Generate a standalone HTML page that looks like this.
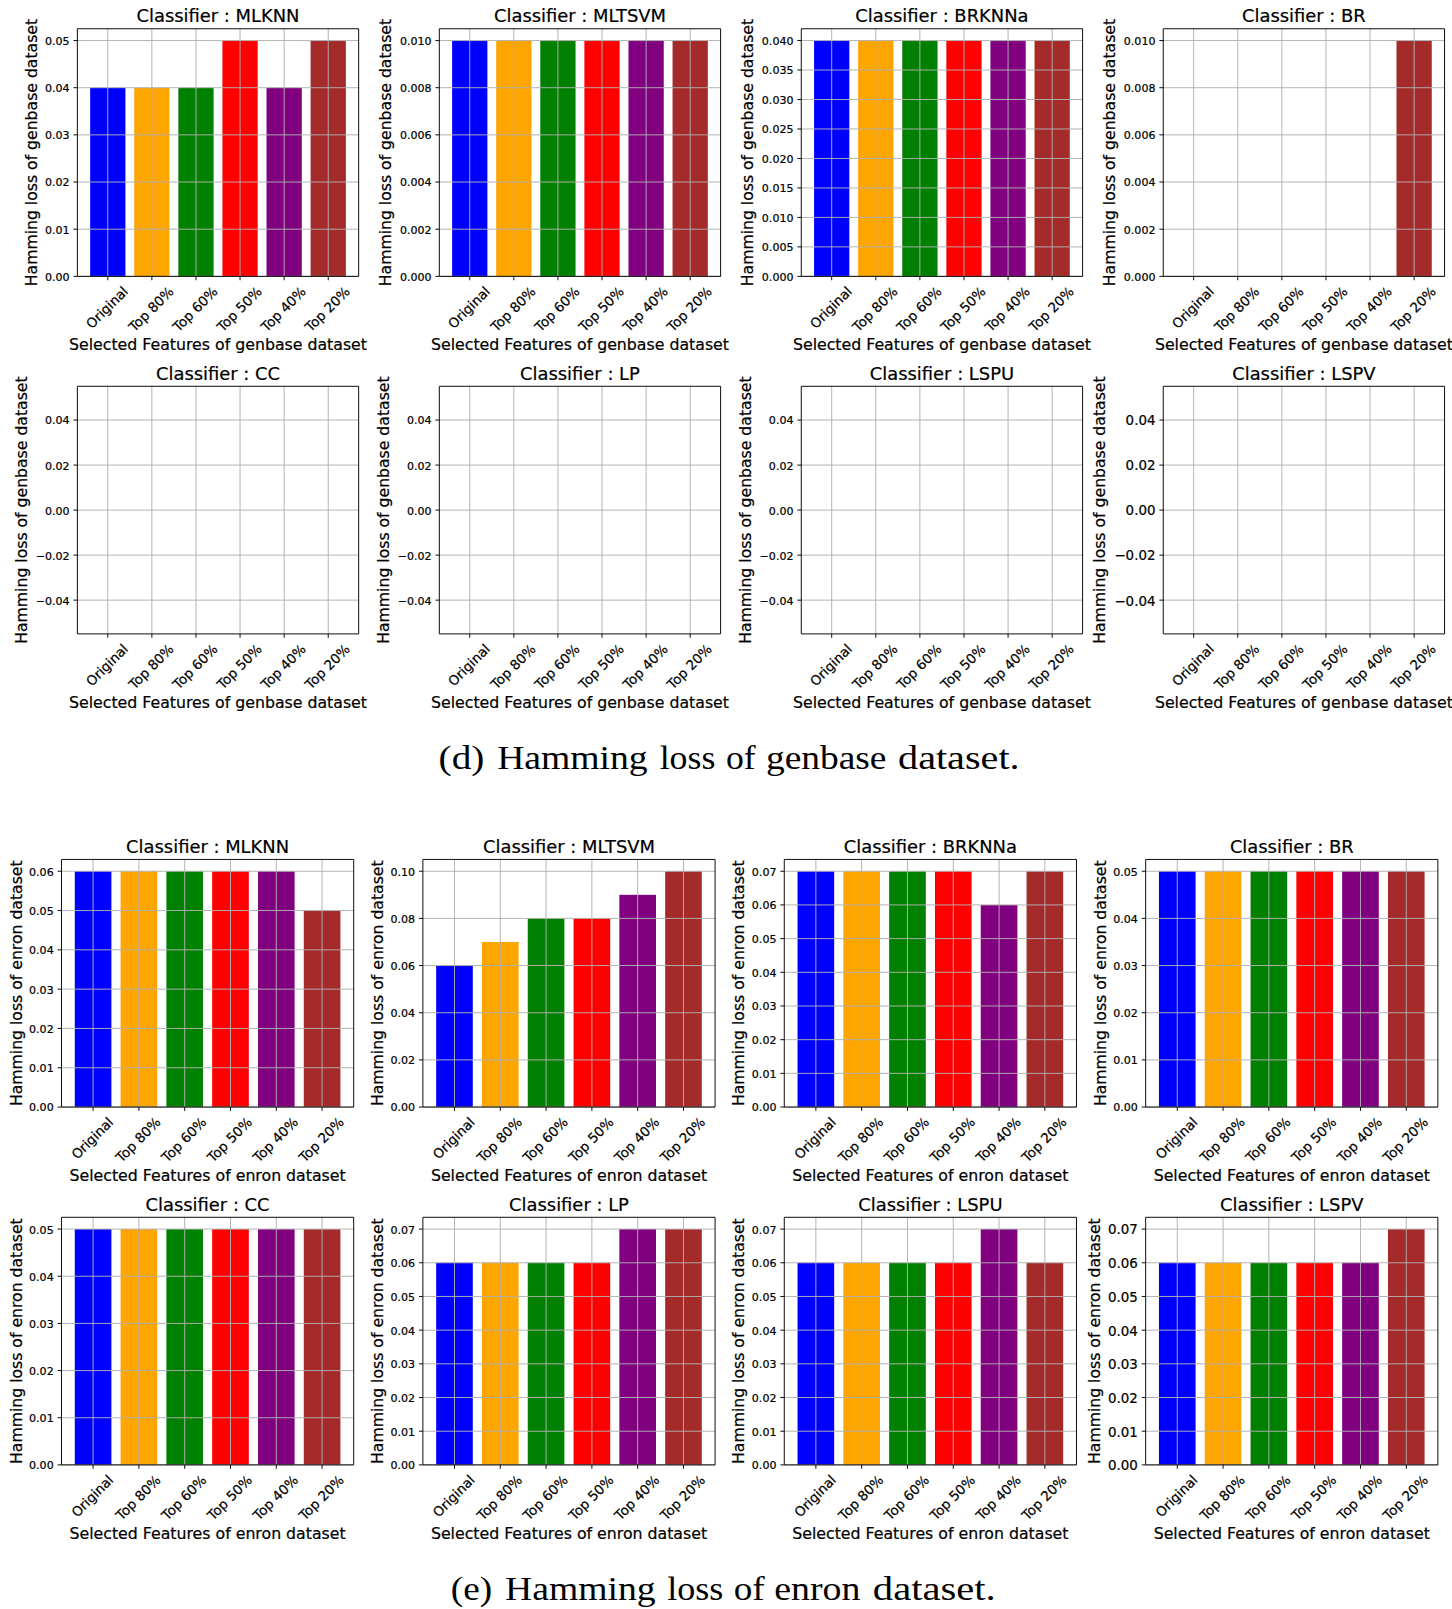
<!DOCTYPE html>
<html><head><meta charset="utf-8"><title>Hamming loss</title>
<style>html,body{margin:0;padding:0;background:#fff}svg{display:block}</style></head>
<body><svg width="1452" height="1609" viewBox="0 0 1452 1609" font-family="'DejaVu Sans','Liberation Sans',sans-serif" fill="#000" stroke="#000" stroke-width="0.22" stroke-linejoin="round">
<rect width="1452" height="1609" fill="#fff" stroke="none"/>
<rect x="77.36" y="28.76" width="281.30" height="247.60" fill="#fff" stroke="none"/>
<rect x="90.15" y="87.71" width="35.27" height="188.65" fill="#0000ff" stroke="none"/>
<rect x="134.24" y="87.71" width="35.27" height="188.65" fill="#ffa500" stroke="none"/>
<rect x="178.33" y="87.71" width="35.27" height="188.65" fill="#008000" stroke="none"/>
<rect x="222.42" y="40.55" width="35.27" height="235.81" fill="#ff0000" stroke="none"/>
<rect x="266.51" y="87.71" width="35.27" height="188.65" fill="#800080" stroke="none"/>
<rect x="310.60" y="40.55" width="35.27" height="235.81" fill="#a52a2a" stroke="none"/>
<path d="M107.78 28.76V276.36M151.87 28.76V276.36M195.96 28.76V276.36M240.06 28.76V276.36M284.15 28.76V276.36M328.24 28.76V276.36M77.36 276.36H358.66M77.36 229.20H358.66M77.36 182.04H358.66M77.36 134.87H358.66M77.36 87.71H358.66M77.36 40.55H358.66" stroke="#b0b0b0" stroke-width="0.95" fill="none"/>
<path d="M107.78 276.36v3.90M151.87 276.36v3.90M195.96 276.36v3.90M240.06 276.36v3.90M284.15 276.36v3.90M328.24 276.36v3.90M77.36 276.36h-3.90M77.36 229.20h-3.90M77.36 182.04h-3.90M77.36 134.87h-3.90M77.36 87.71h-3.90M77.36 40.55h-3.90" stroke="#000" stroke-width="0.95" fill="none"/>
<rect x="77.36" y="28.76" width="281.30" height="247.60" fill="none" stroke="#000" stroke-width="0.95"/>
<text x="69.55" y="280.78" font-size="11.05" text-anchor="end">0.00</text>
<text x="69.55" y="233.62" font-size="11.05" text-anchor="end">0.01</text>
<text x="69.55" y="186.46" font-size="11.05" text-anchor="end">0.02</text>
<text x="69.55" y="139.29" font-size="11.05" text-anchor="end">0.03</text>
<text x="69.55" y="92.13" font-size="11.05" text-anchor="end">0.04</text>
<text x="69.55" y="44.97" font-size="11.05" text-anchor="end">0.05</text>
<text x="107.78" y="311.98" font-size="13.40" text-anchor="middle" transform="rotate(-45 107.78 308.30)">Original</text>
<text x="151.87" y="313.48" font-size="13.40" text-anchor="middle" transform="rotate(-45 151.87 309.79)">Top 80%</text>
<text x="195.96" y="313.48" font-size="13.40" text-anchor="middle" transform="rotate(-45 195.96 309.79)">Top 60%</text>
<text x="240.06" y="313.48" font-size="13.40" text-anchor="middle" transform="rotate(-45 240.06 309.79)">Top 50%</text>
<text x="284.15" y="313.48" font-size="13.40" text-anchor="middle" transform="rotate(-45 284.15 309.79)">Top 40%</text>
<text x="328.24" y="313.48" font-size="13.40" text-anchor="middle" transform="rotate(-45 328.24 309.79)">Top 20%</text>
<text x="218.01" y="22.07" font-size="17.90" text-anchor="middle">Classifier : MLKNN</text>
<text x="218.01" y="350.35" font-size="15.75" text-anchor="middle">Selected Features of genbase dataset</text>
<text x="36.58" y="152.56" font-size="15.66" text-anchor="middle" transform="rotate(-90 36.58 152.56)">Hamming loss of genbase dataset</text>
<rect x="439.32" y="28.76" width="281.30" height="247.60" fill="#fff" stroke="none"/>
<rect x="452.11" y="40.55" width="35.27" height="235.81" fill="#0000ff" stroke="none"/>
<rect x="496.20" y="40.55" width="35.27" height="235.81" fill="#ffa500" stroke="none"/>
<rect x="540.29" y="40.55" width="35.27" height="235.81" fill="#008000" stroke="none"/>
<rect x="584.38" y="40.55" width="35.27" height="235.81" fill="#ff0000" stroke="none"/>
<rect x="628.47" y="40.55" width="35.27" height="235.81" fill="#800080" stroke="none"/>
<rect x="672.56" y="40.55" width="35.27" height="235.81" fill="#a52a2a" stroke="none"/>
<path d="M469.74 28.76V276.36M513.83 28.76V276.36M557.92 28.76V276.36M602.02 28.76V276.36M646.11 28.76V276.36M690.20 28.76V276.36M439.32 276.36H720.62M439.32 229.20H720.62M439.32 182.04H720.62M439.32 134.87H720.62M439.32 87.71H720.62M439.32 40.55H720.62" stroke="#b0b0b0" stroke-width="0.95" fill="none"/>
<path d="M469.74 276.36v3.90M513.83 276.36v3.90M557.92 276.36v3.90M602.02 276.36v3.90M646.11 276.36v3.90M690.20 276.36v3.90M439.32 276.36h-3.90M439.32 229.20h-3.90M439.32 182.04h-3.90M439.32 134.87h-3.90M439.32 87.71h-3.90M439.32 40.55h-3.90" stroke="#000" stroke-width="0.95" fill="none"/>
<rect x="439.32" y="28.76" width="281.30" height="247.60" fill="none" stroke="#000" stroke-width="0.95"/>
<text x="431.52" y="280.78" font-size="11.05" text-anchor="end">0.000</text>
<text x="431.52" y="233.62" font-size="11.05" text-anchor="end">0.002</text>
<text x="431.52" y="186.46" font-size="11.05" text-anchor="end">0.004</text>
<text x="431.52" y="139.29" font-size="11.05" text-anchor="end">0.006</text>
<text x="431.52" y="92.13" font-size="11.05" text-anchor="end">0.008</text>
<text x="431.52" y="44.97" font-size="11.05" text-anchor="end">0.010</text>
<text x="469.74" y="311.98" font-size="13.40" text-anchor="middle" transform="rotate(-45 469.74 308.30)">Original</text>
<text x="513.83" y="313.48" font-size="13.40" text-anchor="middle" transform="rotate(-45 513.83 309.79)">Top 80%</text>
<text x="557.92" y="313.48" font-size="13.40" text-anchor="middle" transform="rotate(-45 557.92 309.79)">Top 60%</text>
<text x="602.02" y="313.48" font-size="13.40" text-anchor="middle" transform="rotate(-45 602.02 309.79)">Top 50%</text>
<text x="646.11" y="313.48" font-size="13.40" text-anchor="middle" transform="rotate(-45 646.11 309.79)">Top 40%</text>
<text x="690.20" y="313.48" font-size="13.40" text-anchor="middle" transform="rotate(-45 690.20 309.79)">Top 20%</text>
<text x="579.97" y="22.07" font-size="17.90" text-anchor="middle">Classifier : MLTSVM</text>
<text x="579.97" y="350.35" font-size="15.75" text-anchor="middle">Selected Features of genbase dataset</text>
<text x="391.51" y="152.56" font-size="15.66" text-anchor="middle" transform="rotate(-90 391.51 152.56)">Hamming loss of genbase dataset</text>
<rect x="801.28" y="28.76" width="281.30" height="247.60" fill="#fff" stroke="none"/>
<rect x="814.07" y="40.55" width="35.27" height="235.81" fill="#0000ff" stroke="none"/>
<rect x="858.16" y="40.55" width="35.27" height="235.81" fill="#ffa500" stroke="none"/>
<rect x="902.25" y="40.55" width="35.27" height="235.81" fill="#008000" stroke="none"/>
<rect x="946.34" y="40.55" width="35.27" height="235.81" fill="#ff0000" stroke="none"/>
<rect x="990.43" y="40.55" width="35.27" height="235.81" fill="#800080" stroke="none"/>
<rect x="1034.52" y="40.55" width="35.27" height="235.81" fill="#a52a2a" stroke="none"/>
<path d="M831.70 28.76V276.36M875.79 28.76V276.36M919.88 28.76V276.36M963.98 28.76V276.36M1008.07 28.76V276.36M1052.16 28.76V276.36M801.28 276.36H1082.58M801.28 246.88H1082.58M801.28 217.41H1082.58M801.28 187.93H1082.58M801.28 158.46H1082.58M801.28 128.98H1082.58M801.28 99.50H1082.58M801.28 70.03H1082.58M801.28 40.55H1082.58" stroke="#b0b0b0" stroke-width="0.95" fill="none"/>
<path d="M831.70 276.36v3.90M875.79 276.36v3.90M919.88 276.36v3.90M963.98 276.36v3.90M1008.07 276.36v3.90M1052.16 276.36v3.90M801.28 276.36h-3.90M801.28 246.88h-3.90M801.28 217.41h-3.90M801.28 187.93h-3.90M801.28 158.46h-3.90M801.28 128.98h-3.90M801.28 99.50h-3.90M801.28 70.03h-3.90M801.28 40.55h-3.90" stroke="#000" stroke-width="0.95" fill="none"/>
<rect x="801.28" y="28.76" width="281.30" height="247.60" fill="none" stroke="#000" stroke-width="0.95"/>
<text x="793.47" y="280.78" font-size="11.05" text-anchor="end">0.000</text>
<text x="793.47" y="251.30" font-size="11.05" text-anchor="end">0.005</text>
<text x="793.47" y="221.83" font-size="11.05" text-anchor="end">0.010</text>
<text x="793.47" y="192.35" font-size="11.05" text-anchor="end">0.015</text>
<text x="793.47" y="162.88" font-size="11.05" text-anchor="end">0.020</text>
<text x="793.47" y="133.40" font-size="11.05" text-anchor="end">0.025</text>
<text x="793.47" y="103.92" font-size="11.05" text-anchor="end">0.030</text>
<text x="793.47" y="74.45" font-size="11.05" text-anchor="end">0.035</text>
<text x="793.47" y="44.97" font-size="11.05" text-anchor="end">0.040</text>
<text x="831.70" y="311.98" font-size="13.40" text-anchor="middle" transform="rotate(-45 831.70 308.30)">Original</text>
<text x="875.79" y="313.48" font-size="13.40" text-anchor="middle" transform="rotate(-45 875.79 309.79)">Top 80%</text>
<text x="919.88" y="313.48" font-size="13.40" text-anchor="middle" transform="rotate(-45 919.88 309.79)">Top 60%</text>
<text x="963.98" y="313.48" font-size="13.40" text-anchor="middle" transform="rotate(-45 963.98 309.79)">Top 50%</text>
<text x="1008.07" y="313.48" font-size="13.40" text-anchor="middle" transform="rotate(-45 1008.07 309.79)">Top 40%</text>
<text x="1052.16" y="313.48" font-size="13.40" text-anchor="middle" transform="rotate(-45 1052.16 309.79)">Top 20%</text>
<text x="941.93" y="22.07" font-size="17.90" text-anchor="middle">Classifier : BRKNNa</text>
<text x="941.93" y="350.35" font-size="15.75" text-anchor="middle">Selected Features of genbase dataset</text>
<text x="753.47" y="152.56" font-size="15.66" text-anchor="middle" transform="rotate(-90 753.47 152.56)">Hamming loss of genbase dataset</text>
<rect x="1163.25" y="28.76" width="281.30" height="247.60" fill="#fff" stroke="none"/>
<rect x="1396.49" y="40.55" width="35.27" height="235.81" fill="#a52a2a" stroke="none"/>
<path d="M1193.67 28.76V276.36M1237.76 28.76V276.36M1281.85 28.76V276.36M1325.95 28.76V276.36M1370.04 28.76V276.36M1414.13 28.76V276.36M1163.25 276.36H1444.55M1163.25 229.20H1444.55M1163.25 182.04H1444.55M1163.25 134.87H1444.55M1163.25 87.71H1444.55M1163.25 40.55H1444.55" stroke="#b0b0b0" stroke-width="0.95" fill="none"/>
<path d="M1193.67 276.36v3.90M1237.76 276.36v3.90M1281.85 276.36v3.90M1325.95 276.36v3.90M1370.04 276.36v3.90M1414.13 276.36v3.90M1163.25 276.36h-3.90M1163.25 229.20h-3.90M1163.25 182.04h-3.90M1163.25 134.87h-3.90M1163.25 87.71h-3.90M1163.25 40.55h-3.90" stroke="#000" stroke-width="0.95" fill="none"/>
<rect x="1163.25" y="28.76" width="281.30" height="247.60" fill="none" stroke="#000" stroke-width="0.95"/>
<text x="1155.45" y="280.78" font-size="11.05" text-anchor="end">0.000</text>
<text x="1155.45" y="233.62" font-size="11.05" text-anchor="end">0.002</text>
<text x="1155.45" y="186.46" font-size="11.05" text-anchor="end">0.004</text>
<text x="1155.45" y="139.29" font-size="11.05" text-anchor="end">0.006</text>
<text x="1155.45" y="92.13" font-size="11.05" text-anchor="end">0.008</text>
<text x="1155.45" y="44.97" font-size="11.05" text-anchor="end">0.010</text>
<text x="1193.67" y="311.98" font-size="13.40" text-anchor="middle" transform="rotate(-45 1193.67 308.30)">Original</text>
<text x="1237.76" y="313.48" font-size="13.40" text-anchor="middle" transform="rotate(-45 1237.76 309.79)">Top 80%</text>
<text x="1281.85" y="313.48" font-size="13.40" text-anchor="middle" transform="rotate(-45 1281.85 309.79)">Top 60%</text>
<text x="1325.95" y="313.48" font-size="13.40" text-anchor="middle" transform="rotate(-45 1325.95 309.79)">Top 50%</text>
<text x="1370.04" y="313.48" font-size="13.40" text-anchor="middle" transform="rotate(-45 1370.04 309.79)">Top 40%</text>
<text x="1414.13" y="313.48" font-size="13.40" text-anchor="middle" transform="rotate(-45 1414.13 309.79)">Top 20%</text>
<text x="1303.90" y="22.07" font-size="17.90" text-anchor="middle">Classifier : BR</text>
<text x="1303.90" y="350.35" font-size="15.75" text-anchor="middle">Selected Features of genbase dataset</text>
<text x="1115.44" y="152.56" font-size="15.66" text-anchor="middle" transform="rotate(-90 1115.44 152.56)">Hamming loss of genbase dataset</text>
<rect x="77.36" y="386.30" width="281.30" height="247.60" fill="#fff" stroke="none"/>
<path d="M107.78 386.30V633.90M151.87 386.30V633.90M195.96 386.30V633.90M240.06 386.30V633.90M284.15 386.30V633.90M328.24 386.30V633.90M77.36 600.14H358.66M77.36 555.12H358.66M77.36 510.10H358.66M77.36 465.08H358.66M77.36 420.06H358.66" stroke="#b0b0b0" stroke-width="0.95" fill="none"/>
<path d="M107.78 633.90v3.90M151.87 633.90v3.90M195.96 633.90v3.90M240.06 633.90v3.90M284.15 633.90v3.90M328.24 633.90v3.90M77.36 600.14h-3.90M77.36 555.12h-3.90M77.36 510.10h-3.90M77.36 465.08h-3.90M77.36 420.06h-3.90" stroke="#000" stroke-width="0.95" fill="none"/>
<rect x="77.36" y="386.30" width="281.30" height="247.60" fill="none" stroke="#000" stroke-width="0.95"/>
<text x="69.55" y="604.56" font-size="11.05" text-anchor="end">−0.04</text>
<text x="69.55" y="559.54" font-size="11.05" text-anchor="end">−0.02</text>
<text x="69.55" y="514.52" font-size="11.05" text-anchor="end">0.00</text>
<text x="69.55" y="469.50" font-size="11.05" text-anchor="end">0.02</text>
<text x="69.55" y="424.48" font-size="11.05" text-anchor="end">0.04</text>
<text x="107.78" y="669.52" font-size="13.40" text-anchor="middle" transform="rotate(-45 107.78 665.84)">Original</text>
<text x="151.87" y="671.02" font-size="13.40" text-anchor="middle" transform="rotate(-45 151.87 667.33)">Top 80%</text>
<text x="195.96" y="671.02" font-size="13.40" text-anchor="middle" transform="rotate(-45 195.96 667.33)">Top 60%</text>
<text x="240.06" y="671.02" font-size="13.40" text-anchor="middle" transform="rotate(-45 240.06 667.33)">Top 50%</text>
<text x="284.15" y="671.02" font-size="13.40" text-anchor="middle" transform="rotate(-45 284.15 667.33)">Top 40%</text>
<text x="328.24" y="671.02" font-size="13.40" text-anchor="middle" transform="rotate(-45 328.24 667.33)">Top 20%</text>
<text x="218.01" y="379.61" font-size="17.90" text-anchor="middle">Classifier : CC</text>
<text x="218.01" y="707.89" font-size="15.75" text-anchor="middle">Selected Features of genbase dataset</text>
<text x="27.33" y="510.10" font-size="15.66" text-anchor="middle" transform="rotate(-90 27.33 510.10)">Hamming loss of genbase dataset</text>
<rect x="439.32" y="386.30" width="281.30" height="247.60" fill="#fff" stroke="none"/>
<path d="M469.74 386.30V633.90M513.83 386.30V633.90M557.92 386.30V633.90M602.02 386.30V633.90M646.11 386.30V633.90M690.20 386.30V633.90M439.32 600.14H720.62M439.32 555.12H720.62M439.32 510.10H720.62M439.32 465.08H720.62M439.32 420.06H720.62" stroke="#b0b0b0" stroke-width="0.95" fill="none"/>
<path d="M469.74 633.90v3.90M513.83 633.90v3.90M557.92 633.90v3.90M602.02 633.90v3.90M646.11 633.90v3.90M690.20 633.90v3.90M439.32 600.14h-3.90M439.32 555.12h-3.90M439.32 510.10h-3.90M439.32 465.08h-3.90M439.32 420.06h-3.90" stroke="#000" stroke-width="0.95" fill="none"/>
<rect x="439.32" y="386.30" width="281.30" height="247.60" fill="none" stroke="#000" stroke-width="0.95"/>
<text x="431.52" y="604.56" font-size="11.05" text-anchor="end">−0.04</text>
<text x="431.52" y="559.54" font-size="11.05" text-anchor="end">−0.02</text>
<text x="431.52" y="514.52" font-size="11.05" text-anchor="end">0.00</text>
<text x="431.52" y="469.50" font-size="11.05" text-anchor="end">0.02</text>
<text x="431.52" y="424.48" font-size="11.05" text-anchor="end">0.04</text>
<text x="469.74" y="669.52" font-size="13.40" text-anchor="middle" transform="rotate(-45 469.74 665.84)">Original</text>
<text x="513.83" y="671.02" font-size="13.40" text-anchor="middle" transform="rotate(-45 513.83 667.33)">Top 80%</text>
<text x="557.92" y="671.02" font-size="13.40" text-anchor="middle" transform="rotate(-45 557.92 667.33)">Top 60%</text>
<text x="602.02" y="671.02" font-size="13.40" text-anchor="middle" transform="rotate(-45 602.02 667.33)">Top 50%</text>
<text x="646.11" y="671.02" font-size="13.40" text-anchor="middle" transform="rotate(-45 646.11 667.33)">Top 40%</text>
<text x="690.20" y="671.02" font-size="13.40" text-anchor="middle" transform="rotate(-45 690.20 667.33)">Top 20%</text>
<text x="579.97" y="379.61" font-size="17.90" text-anchor="middle">Classifier : LP</text>
<text x="579.97" y="707.89" font-size="15.75" text-anchor="middle">Selected Features of genbase dataset</text>
<text x="389.29" y="510.10" font-size="15.66" text-anchor="middle" transform="rotate(-90 389.29 510.10)">Hamming loss of genbase dataset</text>
<rect x="801.28" y="386.30" width="281.30" height="247.60" fill="#fff" stroke="none"/>
<path d="M831.70 386.30V633.90M875.79 386.30V633.90M919.88 386.30V633.90M963.98 386.30V633.90M1008.07 386.30V633.90M1052.16 386.30V633.90M801.28 600.14H1082.58M801.28 555.12H1082.58M801.28 510.10H1082.58M801.28 465.08H1082.58M801.28 420.06H1082.58" stroke="#b0b0b0" stroke-width="0.95" fill="none"/>
<path d="M831.70 633.90v3.90M875.79 633.90v3.90M919.88 633.90v3.90M963.98 633.90v3.90M1008.07 633.90v3.90M1052.16 633.90v3.90M801.28 600.14h-3.90M801.28 555.12h-3.90M801.28 510.10h-3.90M801.28 465.08h-3.90M801.28 420.06h-3.90" stroke="#000" stroke-width="0.95" fill="none"/>
<rect x="801.28" y="386.30" width="281.30" height="247.60" fill="none" stroke="#000" stroke-width="0.95"/>
<text x="793.47" y="604.56" font-size="11.05" text-anchor="end">−0.04</text>
<text x="793.47" y="559.54" font-size="11.05" text-anchor="end">−0.02</text>
<text x="793.47" y="514.52" font-size="11.05" text-anchor="end">0.00</text>
<text x="793.47" y="469.50" font-size="11.05" text-anchor="end">0.02</text>
<text x="793.47" y="424.48" font-size="11.05" text-anchor="end">0.04</text>
<text x="831.70" y="669.52" font-size="13.40" text-anchor="middle" transform="rotate(-45 831.70 665.84)">Original</text>
<text x="875.79" y="671.02" font-size="13.40" text-anchor="middle" transform="rotate(-45 875.79 667.33)">Top 80%</text>
<text x="919.88" y="671.02" font-size="13.40" text-anchor="middle" transform="rotate(-45 919.88 667.33)">Top 60%</text>
<text x="963.98" y="671.02" font-size="13.40" text-anchor="middle" transform="rotate(-45 963.98 667.33)">Top 50%</text>
<text x="1008.07" y="671.02" font-size="13.40" text-anchor="middle" transform="rotate(-45 1008.07 667.33)">Top 40%</text>
<text x="1052.16" y="671.02" font-size="13.40" text-anchor="middle" transform="rotate(-45 1052.16 667.33)">Top 20%</text>
<text x="941.93" y="379.61" font-size="17.90" text-anchor="middle">Classifier : LSPU</text>
<text x="941.93" y="707.89" font-size="15.75" text-anchor="middle">Selected Features of genbase dataset</text>
<text x="751.25" y="510.10" font-size="15.66" text-anchor="middle" transform="rotate(-90 751.25 510.10)">Hamming loss of genbase dataset</text>
<rect x="1163.25" y="386.30" width="281.30" height="247.60" fill="#fff" stroke="none"/>
<path d="M1193.67 386.30V633.90M1237.76 386.30V633.90M1281.85 386.30V633.90M1325.95 386.30V633.90M1370.04 386.30V633.90M1414.13 386.30V633.90M1163.25 600.14H1444.55M1163.25 555.12H1444.55M1163.25 510.10H1444.55M1163.25 465.08H1444.55M1163.25 420.06H1444.55" stroke="#b0b0b0" stroke-width="0.95" fill="none"/>
<path d="M1193.67 633.90v3.90M1237.76 633.90v3.90M1281.85 633.90v3.90M1325.95 633.90v3.90M1370.04 633.90v3.90M1414.13 633.90v3.90M1163.25 600.14h-3.90M1163.25 555.12h-3.90M1163.25 510.10h-3.90M1163.25 465.08h-3.90M1163.25 420.06h-3.90" stroke="#000" stroke-width="0.95" fill="none"/>
<rect x="1163.25" y="386.30" width="281.30" height="247.60" fill="none" stroke="#000" stroke-width="0.95"/>
<text x="1155.45" y="605.50" font-size="13.40" text-anchor="end">−0.04</text>
<text x="1155.45" y="560.48" font-size="13.40" text-anchor="end">−0.02</text>
<text x="1155.45" y="515.46" font-size="13.40" text-anchor="end">0.00</text>
<text x="1155.45" y="470.44" font-size="13.40" text-anchor="end">0.02</text>
<text x="1155.45" y="425.42" font-size="13.40" text-anchor="end">0.04</text>
<text x="1193.67" y="669.52" font-size="13.40" text-anchor="middle" transform="rotate(-45 1193.67 665.84)">Original</text>
<text x="1237.76" y="671.02" font-size="13.40" text-anchor="middle" transform="rotate(-45 1237.76 667.33)">Top 80%</text>
<text x="1281.85" y="671.02" font-size="13.40" text-anchor="middle" transform="rotate(-45 1281.85 667.33)">Top 60%</text>
<text x="1325.95" y="671.02" font-size="13.40" text-anchor="middle" transform="rotate(-45 1325.95 667.33)">Top 50%</text>
<text x="1370.04" y="671.02" font-size="13.40" text-anchor="middle" transform="rotate(-45 1370.04 667.33)">Top 40%</text>
<text x="1414.13" y="671.02" font-size="13.40" text-anchor="middle" transform="rotate(-45 1414.13 667.33)">Top 20%</text>
<text x="1303.90" y="379.61" font-size="17.90" text-anchor="middle">Classifier : LSPV</text>
<text x="1303.90" y="707.89" font-size="15.75" text-anchor="middle">Selected Features of genbase dataset</text>
<text x="1105.31" y="510.10" font-size="15.66" text-anchor="middle" transform="rotate(-90 1105.31 510.10)">Hamming loss of genbase dataset</text>
<rect x="61.49" y="859.45" width="292.20" height="247.60" fill="#fff" stroke="none"/>
<rect x="74.77" y="871.24" width="36.64" height="235.81" fill="#0000ff" stroke="none"/>
<rect x="120.57" y="871.24" width="36.64" height="235.81" fill="#ffa500" stroke="none"/>
<rect x="166.37" y="871.24" width="36.64" height="235.81" fill="#008000" stroke="none"/>
<rect x="212.17" y="871.24" width="36.64" height="235.81" fill="#ff0000" stroke="none"/>
<rect x="257.97" y="871.24" width="36.64" height="235.81" fill="#800080" stroke="none"/>
<rect x="303.77" y="910.54" width="36.64" height="196.51" fill="#a52a2a" stroke="none"/>
<path d="M93.09 859.45V1107.05M138.89 859.45V1107.05M184.69 859.45V1107.05M230.49 859.45V1107.05M276.29 859.45V1107.05M322.09 859.45V1107.05M61.49 1107.05H353.69M61.49 1067.75H353.69M61.49 1028.45H353.69M61.49 989.15H353.69M61.49 949.84H353.69M61.49 910.54H353.69M61.49 871.24H353.69" stroke="#b0b0b0" stroke-width="0.95" fill="none"/>
<path d="M93.09 1107.05v3.90M138.89 1107.05v3.90M184.69 1107.05v3.90M230.49 1107.05v3.90M276.29 1107.05v3.90M322.09 1107.05v3.90M61.49 1107.05h-3.90M61.49 1067.75h-3.90M61.49 1028.45h-3.90M61.49 989.15h-3.90M61.49 949.84h-3.90M61.49 910.54h-3.90M61.49 871.24h-3.90" stroke="#000" stroke-width="0.95" fill="none"/>
<rect x="61.49" y="859.45" width="292.20" height="247.60" fill="none" stroke="#000" stroke-width="0.95"/>
<text x="53.69" y="1111.47" font-size="11.05" text-anchor="end">0.00</text>
<text x="53.69" y="1072.17" font-size="11.05" text-anchor="end">0.01</text>
<text x="53.69" y="1032.87" font-size="11.05" text-anchor="end">0.02</text>
<text x="53.69" y="993.57" font-size="11.05" text-anchor="end">0.03</text>
<text x="53.69" y="954.26" font-size="11.05" text-anchor="end">0.04</text>
<text x="53.69" y="914.96" font-size="11.05" text-anchor="end">0.05</text>
<text x="53.69" y="875.66" font-size="11.05" text-anchor="end">0.06</text>
<text x="93.09" y="1142.67" font-size="13.40" text-anchor="middle" transform="rotate(-45 93.09 1138.99)">Original</text>
<text x="138.89" y="1144.17" font-size="13.40" text-anchor="middle" transform="rotate(-45 138.89 1140.48)">Top 80%</text>
<text x="184.69" y="1144.17" font-size="13.40" text-anchor="middle" transform="rotate(-45 184.69 1140.48)">Top 60%</text>
<text x="230.49" y="1144.17" font-size="13.40" text-anchor="middle" transform="rotate(-45 230.49 1140.48)">Top 50%</text>
<text x="276.29" y="1144.17" font-size="13.40" text-anchor="middle" transform="rotate(-45 276.29 1140.48)">Top 40%</text>
<text x="322.09" y="1144.17" font-size="13.40" text-anchor="middle" transform="rotate(-45 322.09 1140.48)">Top 20%</text>
<text x="207.59" y="852.76" font-size="17.90" text-anchor="middle">Classifier : MLKNN</text>
<text x="207.59" y="1181.04" font-size="15.75" text-anchor="middle">Selected Features of enron dataset</text>
<text x="21.51" y="983.25" font-size="15.66" text-anchor="middle" transform="rotate(-90 21.51 983.25)">Hamming loss of enron dataset</text>
<rect x="422.88" y="859.45" width="292.20" height="247.60" fill="#fff" stroke="none"/>
<rect x="436.16" y="965.56" width="36.64" height="141.49" fill="#0000ff" stroke="none"/>
<rect x="481.96" y="941.98" width="36.64" height="165.07" fill="#ffa500" stroke="none"/>
<rect x="527.76" y="918.40" width="36.64" height="188.65" fill="#008000" stroke="none"/>
<rect x="573.56" y="918.40" width="36.64" height="188.65" fill="#ff0000" stroke="none"/>
<rect x="619.36" y="894.82" width="36.64" height="212.23" fill="#800080" stroke="none"/>
<rect x="665.16" y="871.24" width="36.64" height="235.81" fill="#a52a2a" stroke="none"/>
<path d="M454.48 859.45V1107.05M500.28 859.45V1107.05M546.08 859.45V1107.05M591.88 859.45V1107.05M637.68 859.45V1107.05M683.48 859.45V1107.05M422.88 1107.05H715.08M422.88 1059.89H715.08M422.88 1012.73H715.08M422.88 965.56H715.08M422.88 918.40H715.08M422.88 871.24H715.08" stroke="#b0b0b0" stroke-width="0.95" fill="none"/>
<path d="M454.48 1107.05v3.90M500.28 1107.05v3.90M546.08 1107.05v3.90M591.88 1107.05v3.90M637.68 1107.05v3.90M683.48 1107.05v3.90M422.88 1107.05h-3.90M422.88 1059.89h-3.90M422.88 1012.73h-3.90M422.88 965.56h-3.90M422.88 918.40h-3.90M422.88 871.24h-3.90" stroke="#000" stroke-width="0.95" fill="none"/>
<rect x="422.88" y="859.45" width="292.20" height="247.60" fill="none" stroke="#000" stroke-width="0.95"/>
<text x="415.08" y="1111.47" font-size="11.05" text-anchor="end">0.00</text>
<text x="415.08" y="1064.31" font-size="11.05" text-anchor="end">0.02</text>
<text x="415.08" y="1017.15" font-size="11.05" text-anchor="end">0.04</text>
<text x="415.08" y="969.98" font-size="11.05" text-anchor="end">0.06</text>
<text x="415.08" y="922.82" font-size="11.05" text-anchor="end">0.08</text>
<text x="415.08" y="875.66" font-size="11.05" text-anchor="end">0.10</text>
<text x="454.48" y="1142.67" font-size="13.40" text-anchor="middle" transform="rotate(-45 454.48 1138.99)">Original</text>
<text x="500.28" y="1144.17" font-size="13.40" text-anchor="middle" transform="rotate(-45 500.28 1140.48)">Top 80%</text>
<text x="546.08" y="1144.17" font-size="13.40" text-anchor="middle" transform="rotate(-45 546.08 1140.48)">Top 60%</text>
<text x="591.88" y="1144.17" font-size="13.40" text-anchor="middle" transform="rotate(-45 591.88 1140.48)">Top 50%</text>
<text x="637.68" y="1144.17" font-size="13.40" text-anchor="middle" transform="rotate(-45 637.68 1140.48)">Top 40%</text>
<text x="683.48" y="1144.17" font-size="13.40" text-anchor="middle" transform="rotate(-45 683.48 1140.48)">Top 20%</text>
<text x="568.98" y="852.76" font-size="17.90" text-anchor="middle">Classifier : MLTSVM</text>
<text x="568.98" y="1181.04" font-size="15.75" text-anchor="middle">Selected Features of enron dataset</text>
<text x="382.90" y="983.25" font-size="15.66" text-anchor="middle" transform="rotate(-90 382.90 983.25)">Hamming loss of enron dataset</text>
<rect x="784.27" y="859.45" width="292.20" height="247.60" fill="#fff" stroke="none"/>
<rect x="797.55" y="871.24" width="36.64" height="235.81" fill="#0000ff" stroke="none"/>
<rect x="843.35" y="871.24" width="36.64" height="235.81" fill="#ffa500" stroke="none"/>
<rect x="889.15" y="871.24" width="36.64" height="235.81" fill="#008000" stroke="none"/>
<rect x="934.95" y="871.24" width="36.64" height="235.81" fill="#ff0000" stroke="none"/>
<rect x="980.75" y="904.93" width="36.64" height="202.12" fill="#800080" stroke="none"/>
<rect x="1026.55" y="871.24" width="36.64" height="235.81" fill="#a52a2a" stroke="none"/>
<path d="M815.87 859.45V1107.05M861.67 859.45V1107.05M907.47 859.45V1107.05M953.27 859.45V1107.05M999.07 859.45V1107.05M1044.87 859.45V1107.05M784.27 1107.05H1076.47M784.27 1073.36H1076.47M784.27 1039.68H1076.47M784.27 1005.99H1076.47M784.27 972.30H1076.47M784.27 938.61H1076.47M784.27 904.93H1076.47M784.27 871.24H1076.47" stroke="#b0b0b0" stroke-width="0.95" fill="none"/>
<path d="M815.87 1107.05v3.90M861.67 1107.05v3.90M907.47 1107.05v3.90M953.27 1107.05v3.90M999.07 1107.05v3.90M1044.87 1107.05v3.90M784.27 1107.05h-3.90M784.27 1073.36h-3.90M784.27 1039.68h-3.90M784.27 1005.99h-3.90M784.27 972.30h-3.90M784.27 938.61h-3.90M784.27 904.93h-3.90M784.27 871.24h-3.90" stroke="#000" stroke-width="0.95" fill="none"/>
<rect x="784.27" y="859.45" width="292.20" height="247.60" fill="none" stroke="#000" stroke-width="0.95"/>
<text x="776.46" y="1111.47" font-size="11.05" text-anchor="end">0.00</text>
<text x="776.46" y="1077.78" font-size="11.05" text-anchor="end">0.01</text>
<text x="776.46" y="1044.10" font-size="11.05" text-anchor="end">0.02</text>
<text x="776.46" y="1010.41" font-size="11.05" text-anchor="end">0.03</text>
<text x="776.46" y="976.72" font-size="11.05" text-anchor="end">0.04</text>
<text x="776.46" y="943.03" font-size="11.05" text-anchor="end">0.05</text>
<text x="776.46" y="909.35" font-size="11.05" text-anchor="end">0.06</text>
<text x="776.46" y="875.66" font-size="11.05" text-anchor="end">0.07</text>
<text x="815.87" y="1142.67" font-size="13.40" text-anchor="middle" transform="rotate(-45 815.87 1138.99)">Original</text>
<text x="861.67" y="1144.17" font-size="13.40" text-anchor="middle" transform="rotate(-45 861.67 1140.48)">Top 80%</text>
<text x="907.47" y="1144.17" font-size="13.40" text-anchor="middle" transform="rotate(-45 907.47 1140.48)">Top 60%</text>
<text x="953.27" y="1144.17" font-size="13.40" text-anchor="middle" transform="rotate(-45 953.27 1140.48)">Top 50%</text>
<text x="999.07" y="1144.17" font-size="13.40" text-anchor="middle" transform="rotate(-45 999.07 1140.48)">Top 40%</text>
<text x="1044.87" y="1144.17" font-size="13.40" text-anchor="middle" transform="rotate(-45 1044.87 1140.48)">Top 20%</text>
<text x="930.37" y="852.76" font-size="17.90" text-anchor="middle">Classifier : BRKNNa</text>
<text x="930.37" y="1181.04" font-size="15.75" text-anchor="middle">Selected Features of enron dataset</text>
<text x="744.29" y="983.25" font-size="15.66" text-anchor="middle" transform="rotate(-90 744.29 983.25)">Hamming loss of enron dataset</text>
<rect x="1145.67" y="859.45" width="292.20" height="247.60" fill="#fff" stroke="none"/>
<rect x="1158.95" y="871.24" width="36.64" height="235.81" fill="#0000ff" stroke="none"/>
<rect x="1204.75" y="871.24" width="36.64" height="235.81" fill="#ffa500" stroke="none"/>
<rect x="1250.55" y="871.24" width="36.64" height="235.81" fill="#008000" stroke="none"/>
<rect x="1296.35" y="871.24" width="36.64" height="235.81" fill="#ff0000" stroke="none"/>
<rect x="1342.15" y="871.24" width="36.64" height="235.81" fill="#800080" stroke="none"/>
<rect x="1387.95" y="871.24" width="36.64" height="235.81" fill="#a52a2a" stroke="none"/>
<path d="M1177.27 859.45V1107.05M1223.07 859.45V1107.05M1268.87 859.45V1107.05M1314.67 859.45V1107.05M1360.47 859.45V1107.05M1406.27 859.45V1107.05M1145.67 1107.05H1437.87M1145.67 1059.89H1437.87M1145.67 1012.73H1437.87M1145.67 965.56H1437.87M1145.67 918.40H1437.87M1145.67 871.24H1437.87" stroke="#b0b0b0" stroke-width="0.95" fill="none"/>
<path d="M1177.27 1107.05v3.90M1223.07 1107.05v3.90M1268.87 1107.05v3.90M1314.67 1107.05v3.90M1360.47 1107.05v3.90M1406.27 1107.05v3.90M1145.67 1107.05h-3.90M1145.67 1059.89h-3.90M1145.67 1012.73h-3.90M1145.67 965.56h-3.90M1145.67 918.40h-3.90M1145.67 871.24h-3.90" stroke="#000" stroke-width="0.95" fill="none"/>
<rect x="1145.67" y="859.45" width="292.20" height="247.60" fill="none" stroke="#000" stroke-width="0.95"/>
<text x="1137.87" y="1111.47" font-size="11.05" text-anchor="end">0.00</text>
<text x="1137.87" y="1064.31" font-size="11.05" text-anchor="end">0.01</text>
<text x="1137.87" y="1017.15" font-size="11.05" text-anchor="end">0.02</text>
<text x="1137.87" y="969.98" font-size="11.05" text-anchor="end">0.03</text>
<text x="1137.87" y="922.82" font-size="11.05" text-anchor="end">0.04</text>
<text x="1137.87" y="875.66" font-size="11.05" text-anchor="end">0.05</text>
<text x="1177.27" y="1142.67" font-size="13.40" text-anchor="middle" transform="rotate(-45 1177.27 1138.99)">Original</text>
<text x="1223.07" y="1144.17" font-size="13.40" text-anchor="middle" transform="rotate(-45 1223.07 1140.48)">Top 80%</text>
<text x="1268.87" y="1144.17" font-size="13.40" text-anchor="middle" transform="rotate(-45 1268.87 1140.48)">Top 60%</text>
<text x="1314.67" y="1144.17" font-size="13.40" text-anchor="middle" transform="rotate(-45 1314.67 1140.48)">Top 50%</text>
<text x="1360.47" y="1144.17" font-size="13.40" text-anchor="middle" transform="rotate(-45 1360.47 1140.48)">Top 40%</text>
<text x="1406.27" y="1144.17" font-size="13.40" text-anchor="middle" transform="rotate(-45 1406.27 1140.48)">Top 20%</text>
<text x="1291.77" y="852.76" font-size="17.90" text-anchor="middle">Classifier : BR</text>
<text x="1291.77" y="1181.04" font-size="15.75" text-anchor="middle">Selected Features of enron dataset</text>
<text x="1105.69" y="983.25" font-size="15.66" text-anchor="middle" transform="rotate(-90 1105.69 983.25)">Hamming loss of enron dataset</text>
<rect x="61.49" y="1217.30" width="292.20" height="247.60" fill="#fff" stroke="none"/>
<rect x="74.77" y="1229.09" width="36.64" height="235.81" fill="#0000ff" stroke="none"/>
<rect x="120.57" y="1229.09" width="36.64" height="235.81" fill="#ffa500" stroke="none"/>
<rect x="166.37" y="1229.09" width="36.64" height="235.81" fill="#008000" stroke="none"/>
<rect x="212.17" y="1229.09" width="36.64" height="235.81" fill="#ff0000" stroke="none"/>
<rect x="257.97" y="1229.09" width="36.64" height="235.81" fill="#800080" stroke="none"/>
<rect x="303.77" y="1229.09" width="36.64" height="235.81" fill="#a52a2a" stroke="none"/>
<path d="M93.09 1217.30V1464.90M138.89 1217.30V1464.90M184.69 1217.30V1464.90M230.49 1217.30V1464.90M276.29 1217.30V1464.90M322.09 1217.30V1464.90M61.49 1464.90H353.69M61.49 1417.74H353.69M61.49 1370.58H353.69M61.49 1323.41H353.69M61.49 1276.25H353.69M61.49 1229.09H353.69" stroke="#b0b0b0" stroke-width="0.95" fill="none"/>
<path d="M93.09 1464.90v3.90M138.89 1464.90v3.90M184.69 1464.90v3.90M230.49 1464.90v3.90M276.29 1464.90v3.90M322.09 1464.90v3.90M61.49 1464.90h-3.90M61.49 1417.74h-3.90M61.49 1370.58h-3.90M61.49 1323.41h-3.90M61.49 1276.25h-3.90M61.49 1229.09h-3.90" stroke="#000" stroke-width="0.95" fill="none"/>
<rect x="61.49" y="1217.30" width="292.20" height="247.60" fill="none" stroke="#000" stroke-width="0.95"/>
<text x="53.69" y="1469.32" font-size="11.05" text-anchor="end">0.00</text>
<text x="53.69" y="1422.16" font-size="11.05" text-anchor="end">0.01</text>
<text x="53.69" y="1375.00" font-size="11.05" text-anchor="end">0.02</text>
<text x="53.69" y="1327.83" font-size="11.05" text-anchor="end">0.03</text>
<text x="53.69" y="1280.67" font-size="11.05" text-anchor="end">0.04</text>
<text x="53.69" y="1233.51" font-size="11.05" text-anchor="end">0.05</text>
<text x="93.09" y="1500.52" font-size="13.40" text-anchor="middle" transform="rotate(-45 93.09 1496.84)">Original</text>
<text x="138.89" y="1502.02" font-size="13.40" text-anchor="middle" transform="rotate(-45 138.89 1498.33)">Top 80%</text>
<text x="184.69" y="1502.02" font-size="13.40" text-anchor="middle" transform="rotate(-45 184.69 1498.33)">Top 60%</text>
<text x="230.49" y="1502.02" font-size="13.40" text-anchor="middle" transform="rotate(-45 230.49 1498.33)">Top 50%</text>
<text x="276.29" y="1502.02" font-size="13.40" text-anchor="middle" transform="rotate(-45 276.29 1498.33)">Top 40%</text>
<text x="322.09" y="1502.02" font-size="13.40" text-anchor="middle" transform="rotate(-45 322.09 1498.33)">Top 20%</text>
<text x="207.59" y="1210.61" font-size="17.90" text-anchor="middle">Classifier : CC</text>
<text x="207.59" y="1538.89" font-size="15.75" text-anchor="middle">Selected Features of enron dataset</text>
<text x="21.51" y="1341.10" font-size="15.66" text-anchor="middle" transform="rotate(-90 21.51 1341.10)">Hamming loss of enron dataset</text>
<rect x="422.88" y="1217.30" width="292.20" height="247.60" fill="#fff" stroke="none"/>
<rect x="436.16" y="1262.78" width="36.64" height="202.12" fill="#0000ff" stroke="none"/>
<rect x="481.96" y="1262.78" width="36.64" height="202.12" fill="#ffa500" stroke="none"/>
<rect x="527.76" y="1262.78" width="36.64" height="202.12" fill="#008000" stroke="none"/>
<rect x="573.56" y="1262.78" width="36.64" height="202.12" fill="#ff0000" stroke="none"/>
<rect x="619.36" y="1229.09" width="36.64" height="235.81" fill="#800080" stroke="none"/>
<rect x="665.16" y="1229.09" width="36.64" height="235.81" fill="#a52a2a" stroke="none"/>
<path d="M454.48 1217.30V1464.90M500.28 1217.30V1464.90M546.08 1217.30V1464.90M591.88 1217.30V1464.90M637.68 1217.30V1464.90M683.48 1217.30V1464.90M422.88 1464.90H715.08M422.88 1431.21H715.08M422.88 1397.53H715.08M422.88 1363.84H715.08M422.88 1330.15H715.08M422.88 1296.46H715.08M422.88 1262.78H715.08M422.88 1229.09H715.08" stroke="#b0b0b0" stroke-width="0.95" fill="none"/>
<path d="M454.48 1464.90v3.90M500.28 1464.90v3.90M546.08 1464.90v3.90M591.88 1464.90v3.90M637.68 1464.90v3.90M683.48 1464.90v3.90M422.88 1464.90h-3.90M422.88 1431.21h-3.90M422.88 1397.53h-3.90M422.88 1363.84h-3.90M422.88 1330.15h-3.90M422.88 1296.46h-3.90M422.88 1262.78h-3.90M422.88 1229.09h-3.90" stroke="#000" stroke-width="0.95" fill="none"/>
<rect x="422.88" y="1217.30" width="292.20" height="247.60" fill="none" stroke="#000" stroke-width="0.95"/>
<text x="415.08" y="1469.32" font-size="11.05" text-anchor="end">0.00</text>
<text x="415.08" y="1435.63" font-size="11.05" text-anchor="end">0.01</text>
<text x="415.08" y="1401.95" font-size="11.05" text-anchor="end">0.02</text>
<text x="415.08" y="1368.26" font-size="11.05" text-anchor="end">0.03</text>
<text x="415.08" y="1334.57" font-size="11.05" text-anchor="end">0.04</text>
<text x="415.08" y="1300.88" font-size="11.05" text-anchor="end">0.05</text>
<text x="415.08" y="1267.20" font-size="11.05" text-anchor="end">0.06</text>
<text x="415.08" y="1233.51" font-size="11.05" text-anchor="end">0.07</text>
<text x="454.48" y="1500.52" font-size="13.40" text-anchor="middle" transform="rotate(-45 454.48 1496.84)">Original</text>
<text x="500.28" y="1502.02" font-size="13.40" text-anchor="middle" transform="rotate(-45 500.28 1498.33)">Top 80%</text>
<text x="546.08" y="1502.02" font-size="13.40" text-anchor="middle" transform="rotate(-45 546.08 1498.33)">Top 60%</text>
<text x="591.88" y="1502.02" font-size="13.40" text-anchor="middle" transform="rotate(-45 591.88 1498.33)">Top 50%</text>
<text x="637.68" y="1502.02" font-size="13.40" text-anchor="middle" transform="rotate(-45 637.68 1498.33)">Top 40%</text>
<text x="683.48" y="1502.02" font-size="13.40" text-anchor="middle" transform="rotate(-45 683.48 1498.33)">Top 20%</text>
<text x="568.98" y="1210.61" font-size="17.90" text-anchor="middle">Classifier : LP</text>
<text x="568.98" y="1538.89" font-size="15.75" text-anchor="middle">Selected Features of enron dataset</text>
<text x="382.90" y="1341.10" font-size="15.66" text-anchor="middle" transform="rotate(-90 382.90 1341.10)">Hamming loss of enron dataset</text>
<rect x="784.27" y="1217.30" width="292.20" height="247.60" fill="#fff" stroke="none"/>
<rect x="797.55" y="1262.78" width="36.64" height="202.12" fill="#0000ff" stroke="none"/>
<rect x="843.35" y="1262.78" width="36.64" height="202.12" fill="#ffa500" stroke="none"/>
<rect x="889.15" y="1262.78" width="36.64" height="202.12" fill="#008000" stroke="none"/>
<rect x="934.95" y="1262.78" width="36.64" height="202.12" fill="#ff0000" stroke="none"/>
<rect x="980.75" y="1229.09" width="36.64" height="235.81" fill="#800080" stroke="none"/>
<rect x="1026.55" y="1262.78" width="36.64" height="202.12" fill="#a52a2a" stroke="none"/>
<path d="M815.87 1217.30V1464.90M861.67 1217.30V1464.90M907.47 1217.30V1464.90M953.27 1217.30V1464.90M999.07 1217.30V1464.90M1044.87 1217.30V1464.90M784.27 1464.90H1076.47M784.27 1431.21H1076.47M784.27 1397.53H1076.47M784.27 1363.84H1076.47M784.27 1330.15H1076.47M784.27 1296.46H1076.47M784.27 1262.78H1076.47M784.27 1229.09H1076.47" stroke="#b0b0b0" stroke-width="0.95" fill="none"/>
<path d="M815.87 1464.90v3.90M861.67 1464.90v3.90M907.47 1464.90v3.90M953.27 1464.90v3.90M999.07 1464.90v3.90M1044.87 1464.90v3.90M784.27 1464.90h-3.90M784.27 1431.21h-3.90M784.27 1397.53h-3.90M784.27 1363.84h-3.90M784.27 1330.15h-3.90M784.27 1296.46h-3.90M784.27 1262.78h-3.90M784.27 1229.09h-3.90" stroke="#000" stroke-width="0.95" fill="none"/>
<rect x="784.27" y="1217.30" width="292.20" height="247.60" fill="none" stroke="#000" stroke-width="0.95"/>
<text x="776.46" y="1469.32" font-size="11.05" text-anchor="end">0.00</text>
<text x="776.46" y="1435.63" font-size="11.05" text-anchor="end">0.01</text>
<text x="776.46" y="1401.95" font-size="11.05" text-anchor="end">0.02</text>
<text x="776.46" y="1368.26" font-size="11.05" text-anchor="end">0.03</text>
<text x="776.46" y="1334.57" font-size="11.05" text-anchor="end">0.04</text>
<text x="776.46" y="1300.88" font-size="11.05" text-anchor="end">0.05</text>
<text x="776.46" y="1267.20" font-size="11.05" text-anchor="end">0.06</text>
<text x="776.46" y="1233.51" font-size="11.05" text-anchor="end">0.07</text>
<text x="815.87" y="1500.52" font-size="13.40" text-anchor="middle" transform="rotate(-45 815.87 1496.84)">Original</text>
<text x="861.67" y="1502.02" font-size="13.40" text-anchor="middle" transform="rotate(-45 861.67 1498.33)">Top 80%</text>
<text x="907.47" y="1502.02" font-size="13.40" text-anchor="middle" transform="rotate(-45 907.47 1498.33)">Top 60%</text>
<text x="953.27" y="1502.02" font-size="13.40" text-anchor="middle" transform="rotate(-45 953.27 1498.33)">Top 50%</text>
<text x="999.07" y="1502.02" font-size="13.40" text-anchor="middle" transform="rotate(-45 999.07 1498.33)">Top 40%</text>
<text x="1044.87" y="1502.02" font-size="13.40" text-anchor="middle" transform="rotate(-45 1044.87 1498.33)">Top 20%</text>
<text x="930.37" y="1210.61" font-size="17.90" text-anchor="middle">Classifier : LSPU</text>
<text x="930.37" y="1538.89" font-size="15.75" text-anchor="middle">Selected Features of enron dataset</text>
<text x="744.29" y="1341.10" font-size="15.66" text-anchor="middle" transform="rotate(-90 744.29 1341.10)">Hamming loss of enron dataset</text>
<rect x="1145.67" y="1217.30" width="292.20" height="247.60" fill="#fff" stroke="none"/>
<rect x="1158.95" y="1262.78" width="36.64" height="202.12" fill="#0000ff" stroke="none"/>
<rect x="1204.75" y="1262.78" width="36.64" height="202.12" fill="#ffa500" stroke="none"/>
<rect x="1250.55" y="1262.78" width="36.64" height="202.12" fill="#008000" stroke="none"/>
<rect x="1296.35" y="1262.78" width="36.64" height="202.12" fill="#ff0000" stroke="none"/>
<rect x="1342.15" y="1262.78" width="36.64" height="202.12" fill="#800080" stroke="none"/>
<rect x="1387.95" y="1229.09" width="36.64" height="235.81" fill="#a52a2a" stroke="none"/>
<path d="M1177.27 1217.30V1464.90M1223.07 1217.30V1464.90M1268.87 1217.30V1464.90M1314.67 1217.30V1464.90M1360.47 1217.30V1464.90M1406.27 1217.30V1464.90M1145.67 1464.90H1437.87M1145.67 1431.21H1437.87M1145.67 1397.53H1437.87M1145.67 1363.84H1437.87M1145.67 1330.15H1437.87M1145.67 1296.46H1437.87M1145.67 1262.78H1437.87M1145.67 1229.09H1437.87" stroke="#b0b0b0" stroke-width="0.95" fill="none"/>
<path d="M1177.27 1464.90v3.90M1223.07 1464.90v3.90M1268.87 1464.90v3.90M1314.67 1464.90v3.90M1360.47 1464.90v3.90M1406.27 1464.90v3.90M1145.67 1464.90h-3.90M1145.67 1431.21h-3.90M1145.67 1397.53h-3.90M1145.67 1363.84h-3.90M1145.67 1330.15h-3.90M1145.67 1296.46h-3.90M1145.67 1262.78h-3.90M1145.67 1229.09h-3.90" stroke="#000" stroke-width="0.95" fill="none"/>
<rect x="1145.67" y="1217.30" width="292.20" height="247.60" fill="none" stroke="#000" stroke-width="0.95"/>
<text x="1137.87" y="1470.26" font-size="13.40" text-anchor="end">0.00</text>
<text x="1137.87" y="1436.57" font-size="13.40" text-anchor="end">0.01</text>
<text x="1137.87" y="1402.89" font-size="13.40" text-anchor="end">0.02</text>
<text x="1137.87" y="1369.20" font-size="13.40" text-anchor="end">0.03</text>
<text x="1137.87" y="1335.51" font-size="13.40" text-anchor="end">0.04</text>
<text x="1137.87" y="1301.82" font-size="13.40" text-anchor="end">0.05</text>
<text x="1137.87" y="1268.14" font-size="13.40" text-anchor="end">0.06</text>
<text x="1137.87" y="1234.45" font-size="13.40" text-anchor="end">0.07</text>
<text x="1177.27" y="1500.52" font-size="13.40" text-anchor="middle" transform="rotate(-45 1177.27 1496.84)">Original</text>
<text x="1223.07" y="1502.02" font-size="13.40" text-anchor="middle" transform="rotate(-45 1223.07 1498.33)">Top 80%</text>
<text x="1268.87" y="1502.02" font-size="13.40" text-anchor="middle" transform="rotate(-45 1268.87 1498.33)">Top 60%</text>
<text x="1314.67" y="1502.02" font-size="13.40" text-anchor="middle" transform="rotate(-45 1314.67 1498.33)">Top 50%</text>
<text x="1360.47" y="1502.02" font-size="13.40" text-anchor="middle" transform="rotate(-45 1360.47 1498.33)">Top 40%</text>
<text x="1406.27" y="1502.02" font-size="13.40" text-anchor="middle" transform="rotate(-45 1406.27 1498.33)">Top 20%</text>
<text x="1291.77" y="1210.61" font-size="17.90" text-anchor="middle">Classifier : LSPV</text>
<text x="1291.77" y="1538.89" font-size="15.75" text-anchor="middle">Selected Features of enron dataset</text>
<text x="1100.46" y="1341.10" font-size="15.66" text-anchor="middle" transform="rotate(-90 1100.46 1341.10)">Hamming loss of enron dataset</text>
<g font-family="'Liberation Serif','DejaVu Serif',serif" font-size="34.5" stroke="none">
<text x="438.61" y="769.30" textLength="45.78" lengthAdjust="spacingAndGlyphs">(d)</text>
<text x="497.15" y="769.30" textLength="150.55" lengthAdjust="spacingAndGlyphs">Hamming</text>
<text x="659.68" y="769.30" textLength="55.67" lengthAdjust="spacingAndGlyphs">loss</text>
<text x="725.94" y="769.30" textLength="29.72" lengthAdjust="spacingAndGlyphs">of</text>
<text x="765.93" y="769.30" textLength="120.53" lengthAdjust="spacingAndGlyphs">genbase</text>
<text x="898.05" y="769.30" textLength="121.57" lengthAdjust="spacingAndGlyphs">dataset.</text>
<text x="450.80" y="1599.60" textLength="41.40" lengthAdjust="spacingAndGlyphs">(e)</text>
<text x="505.05" y="1599.60" textLength="150.55" lengthAdjust="spacingAndGlyphs">Hamming</text>
<text x="667.18" y="1599.60" textLength="56.09" lengthAdjust="spacingAndGlyphs">loss</text>
<text x="733.79" y="1599.60" textLength="30.98" lengthAdjust="spacingAndGlyphs">of</text>
<text x="774.22" y="1599.60" textLength="86.14" lengthAdjust="spacingAndGlyphs">enron</text>
<text x="872.84" y="1599.60" textLength="122.92" lengthAdjust="spacingAndGlyphs">dataset.</text>
</g>
</svg></body></html>
